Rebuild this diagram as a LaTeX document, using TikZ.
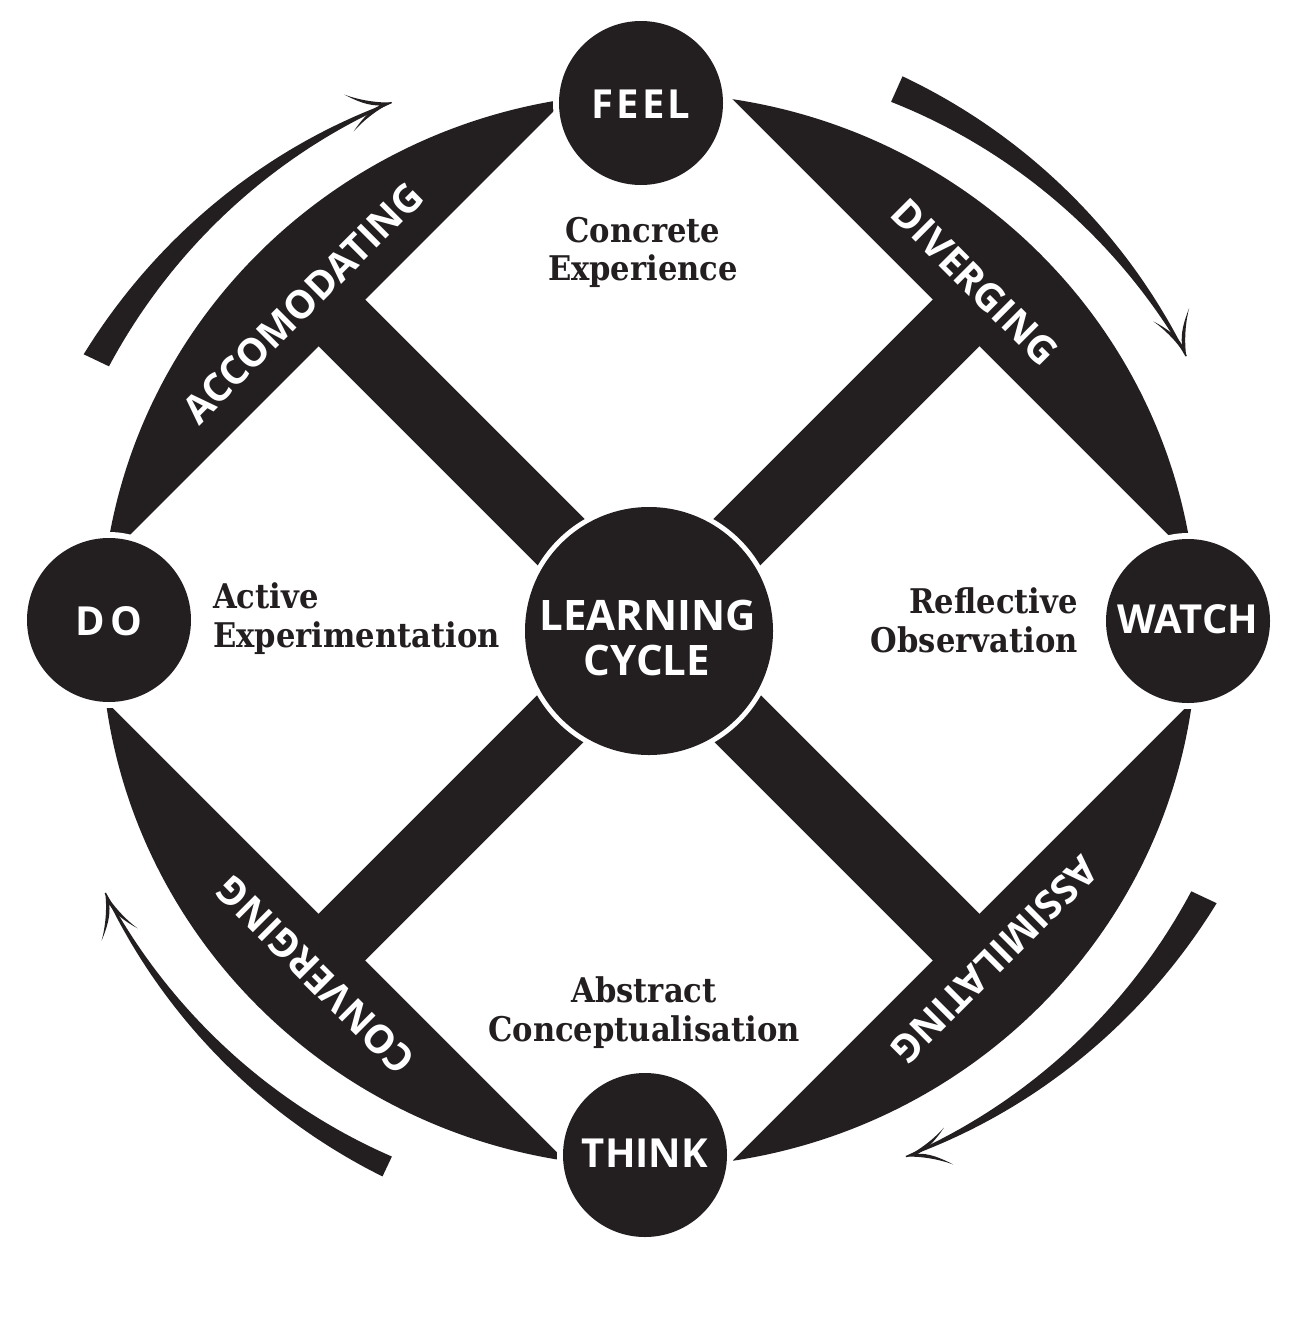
\documentclass[tikz,border=0pt]{standalone}
\usepackage{fontspec}
\setmainfont{Liberation Serif}
\newfontfamily\opensans{Open Sans}
\newfontfamily\qfont[FakeStretch=0.9]{DejaVu Serif}
\usetikzlibrary{calc}
\definecolor{ink}{RGB}{35,31,32}
\begin{document}
\begin{tikzpicture}[x=1pt,y=1pt,
  sanslab/.style={font=\opensans\bfseries\fontsize{40}{40}\selectfont, text=white, inner sep=0pt},
  bigsans/.style={font=\opensans\bfseries\fontsize{42}{42}\selectfont, text=white, inner sep=0pt, anchor=base},
  seglab/.style={font=\opensans\bfseries\fontsize{39}{39}\selectfont, text=white, inner sep=0pt},
  quadlab/.style={font=\qfont\bfseries\fontsize{34}{34}\selectfont, text=ink, inner sep=0pt, anchor=base},
  disc/.style={circle, fill=ink, inner sep=0pt, minimum size=164pt},
  halo/.style={circle, fill=white, inner sep=0pt, minimum size=176pt},
  barbhead/.pic={\fill[ink] (0,0) .. controls (-10,2) and (-28,8) .. (-44,19) .. controls (-34,10) and (-23,2) .. (-12,0) .. controls (-23,-2) and (-34,-10) .. (-44,-19) .. controls (-28,-8) and (-10,-2) .. (0,0) -- cycle;}
]
\fill[white] (0,0) rectangle (1300,-1341);
\useasboundingbox (0,0) rectangle (1300,-1341);
\coordinate (C) at (649,-630);

% main disc with the four segments
\fill[ink] (C) ellipse [x radius=548, y radius=537];
\fill[white] ($(C)+(0,614)$) -- ($(C)+(614,0)$) -- ($(C)+(0,-614)$) -- ($(C)+(-614,0)$) -- cycle;
% cross bars
\draw[ink, line width=66pt] ($(C)+(-350,350)$) -- ($(C)+(350,-350)$);
\draw[ink, line width=66pt] ($(C)+(-350,-350)$) -- ($(C)+(350,350)$);

% centre
\node[circle, fill=white, minimum size=258pt, inner sep=0pt] (corehalo) at (649,-631) {};
\node[circle, fill=ink, minimum size=248pt, inner sep=0pt] (core) at (649,-631) {};
\node[bigsans] (learn) at (648,-630) {LEARNING};
\node[bigsans] (cyc) at (647,-675) {CYCLE};

% outer circles
\node[halo] (feelh) at (641,-103) {};
\node[disc] (feel) at (641,-103) {};
\node[halo] (doh) at (109,-620) {};
\node[disc] (do) at (109,-620) {};
\node[halo] (watchh) at (1188,-621) {};
\node[disc] (watch) at (1188,-621) {};
\node[halo] (thinkh) at (645,-1155) {};
\node[disc] (think) at (645,-1155) {};

\node[sanslab, anchor=base] (feelt) at (641,-118) {F\kern3pt E\kern3pt E\kern3pt L};
\node[sanslab, anchor=base] (dot) at (109,-635) {D\kern6pt O};
\node[sanslab, anchor=base] (watcht) at (1188,-633) {WATCH};
\node[sanslab, anchor=base] (thinkt) at (645,-1167) {THINK};

% segment labels
\node[seglab, rotate=45] (accom) at (303,-303) {ACCOMODATING};
\node[seglab, rotate=-45] (diverg) at (975,-282) {DIVERGING};
\node[seglab, rotate=-135] (assim) at (994,-960) {ASSIMILATING};
\node[seglab, rotate=135] (conv) at (315,-975) {CONVERGING};

% quadrant labels
\node[quadlab] (conc1) at (643,-242) {Concrete};
\node[quadlab] (conc2) at (643,-280) {Experience};
\node[quadlab, anchor=base west] (act1) at (213,-608) {Active};
\node[quadlab, anchor=base west] (act2) at (213,-647) {Experimentation};
\node[quadlab, anchor=base east] (ref1) at (1078,-613) {Reflective};
\node[quadlab, anchor=base east] (ref2) at (1078,-652) {Observation};
\node[quadlab] (abs1) at (644,-1002) {Abstract};
\node[quadlab] (abs2) at (644,-1041) {Conceptualisation};

% cycle arrows
\begin{scope}[shift={(C)}]
  % top-left
  \fill[ink] plot[domain=0:1,samples=60] ({154-38*\x}:{615-28*\x+0.5*(28-26.5*\x)})
    -- plot[domain=1:0,samples=60] ({154-38*\x}:{615-28*\x-0.5*(28-26.5*\x)}) -- cycle;
  \pic[rotate=14] at (116:587) {barbhead};
  % top-right
  \fill[ink] plot[domain=0:1,samples=60] ({65.4-38.4*\x}:{595+8*\x+0.5*(28-26.5*\x)})
    -- plot[domain=1:0,samples=60] ({65.4-38.4*\x}:{595+8*\x-0.5*(28-26.5*\x)}) -- cycle;
  \pic[rotate=-70] at (27:603) {barbhead};
  % bottom-right
  \fill[ink] plot[domain=0:1,samples=60] ({-25.7-38.3*\x}:{616-30*\x+0.5*(28-26.5*\x)})
    -- plot[domain=1:0,samples=60] ({-25.7-38.3*\x}:{616-30*\x-0.5*(28-26.5*\x)}) -- cycle;
  \pic[rotate=-166] at (-64:586) {barbhead};
  % bottom-left
  \fill[ink] plot[domain=0:1,samples=60] ({-116-38.2*\x}:{597+7*\x+0.5*(22-20.5*\x)})
    -- plot[domain=1:0,samples=60] ({-116-38.2*\x}:{597+7*\x-0.5*(22-20.5*\x)}) -- cycle;
  \pic[rotate=109] at (-154.2:604) {barbhead};
\end{scope}
\end{tikzpicture}
\end{document}
